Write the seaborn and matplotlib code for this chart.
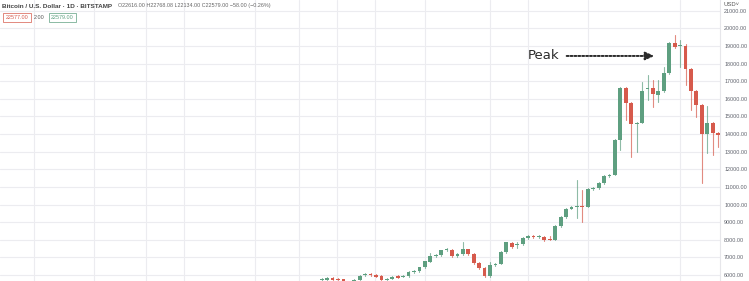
import numpy as np
import pandas as pd
import matplotlib
matplotlib.use("Agg")
import matplotlib.pyplot as plt
import seaborn as sns

# ---------------- data ----------------
opens = [5700, 5720, 5850, 5800, 5760, 5640, 5680, 5740, 5990, 6010,
         5990, 5940, 5740, 5790, 5930, 5900, 5930, 6170, 6200, 6440,
         6760, 7080, 7150, 7400, 7440, 7050, 7180, 7460, 7200, 6700,
         6400, 5920, 6560, 6620, 7300, 7820, 7720, 7760, 8100, 8210,
         8150, 8180, 8070, 7990, 8780, 9290, 9750, 9880, 9920, 9870,
         10880, 10920, 11220, 11620, 11680, 13660, 16610, 15760, 14570, 14630,
         16580, 16620, 16230, 16440, 17460, 19170, 18980, 19000, 17690, 16440,
         15650, 14000, 14630, 14060]
highs = [5830, 5880, 5900, 5850, 5800, 5670, 5770, 5990, 6120, 6090,
         6030, 5980, 5850, 5950, 5990, 6000, 6200, 6260, 6480, 6820,
         7250, 7200, 7430, 7560, 7500, 7220, 7870, 7500, 7230, 6720,
         6450, 6760, 6700, 7340, 7900, 7900, 7850, 8130, 8260, 8260,
         8250, 8240, 8200, 8830, 9330, 9790, 9920, 11390, 10820, 10950,
         11000, 11260, 11660, 11740, 13700, 16650, 16650, 15800, 14700, 16950,
         17350, 17070, 17070, 17820, 19200, 19620, 19340, 19100, 17750, 16500,
         15700, 15600, 14700, 14100]
lows = [5660, 5690, 5700, 5690, 5650, 5560, 5650, 5700, 5930, 5950,
        5860, 5700, 5720, 5760, 5820, 5860, 5900, 6140, 6180, 6400,
        6720, 7000, 7100, 7370, 7000, 7020, 7150, 7150, 6650, 6350,
        5880, 5880, 6500, 6600, 7270, 7550, 7560, 7730, 8070, 8100,
        8110, 7950, 7960, 7970, 8750, 9260, 9720, 9230, 9000, 9850,
        10820, 10870, 11190, 11580, 11650, 13100, 14800, 12700, 12980, 14600,
        15930, 15530, 15820, 16400, 17400, 18900, 17800, 16780, 15360, 14950,
        11220, 12900, 12800, 13260]
closes = [5780, 5850, 5740, 5720, 5680, 5600, 5740, 5950, 6030, 5990,
          5900, 5730, 5800, 5910, 5850, 5930, 6170, 6200, 6450, 6780,
          7080, 7150, 7400, 7460, 7050, 7180, 7460, 7200, 6700, 6400,
          5920, 6560, 6620, 7300, 7870, 7600, 7760, 8100, 8210, 8150,
          8170, 8000, 7990, 8780, 9290, 9750, 9860, 9920, 9870, 10880,
          10920, 11220, 11620, 11680, 13660, 16610, 15760, 14570, 14630, 16440,
          16620, 16270, 16440, 17460, 19170, 18940, 19050, 17690, 16440, 15650,
          14000, 14630, 14060, 13950]

price_ticks = [6000, 7000, 8000, 9000, 10000, 11000, 12000, 13000, 14000,
               15000, 16000, 17000, 18000, 19000, 20000, 21000]
title_text = "Bitcoin / U.S. Dollar · 1D · BITSTAMP"
ohlc_text = "O22616.00 H22768.08 L22134.00 C22579.00 −58.00 (−0.26%)"
bid_text, spread_text, ask_text = "22577.00", "2.00", "22579.00"
annotation_text = "Peak"
currency_text = "USD\u02c5"

# ---------------- style ----------------
sns.set_theme(style="white")
plt.rcParams["font.family"] = ["Liberation Sans", "DejaVu Sans"]

GREEN = "#5e9f80"
RED = "#d65a4c"
GRID = "#ececf0"

W, H = 749, 281
fig = plt.figure(figsize=(W / 100, H / 100), dpi=100)
fig.patch.set_facecolor("white")
ax = fig.add_axes([0, 0, 720 / W, 1])

n = len(opens)
df = pd.DataFrame({"idx": np.arange(n), "open": opens, "high": highs,
                   "low": lows, "close": closes})
df["dir"] = np.where(df["close"] >= df["open"], "up", "down")

# wicks via seaborn lineplot (one unit per candle)
wick = pd.concat([
    df[["idx", "dir"]].assign(price=df["high"]),
    df[["idx", "dir"]].assign(price=df["low"]),
])
wick["candle"] = wick["idx"]
sns.lineplot(data=wick, x="idx", y="price", hue="dir", units="candle",
             estimator=None, palette={"up": GREEN, "down": RED},
             legend=False, linewidth=0.8, sort=False, ax=ax, alpha=0.7)

# bodies
bottom = np.minimum(df["open"], df["close"])
height = np.maximum(np.abs(df["close"] - df["open"]), 60)
colors = [GREEN if d == "up" else RED for d in df["dir"]]
ax.bar(df["idx"], height, bottom=bottom, width=0.7, color=colors,
       edgecolor="none", zorder=3)

# axes limits (matching the reference framing)
ax.set_xlim(-59.24, 73.35)
ax.set_ylim(5659, 21606)

# grid
for p in price_ticks:
    ax.axhline(p, color=GRID, lw=0.8, zorder=0)
for gx in [-53, -42, -32.4, -25.4, -12.3, -4.2, 2.8, 9.8, 19, 31, 38, 49, 66]:
    ax.axvline(gx, color=GRID, lw=0.8, zorder=0)

ax.set_xlabel("")
ax.set_ylabel("")
ax.set_xticks([])
ax.yaxis.tick_right()
ax.set_yticks(price_ticks)
ax.set_yticklabels([f"{p:.2f}" for p in price_ticks], fontsize=3.9,
                   color="#5f626c")
ax.tick_params(axis="y", length=0, pad=3)
for s in ["top", "left", "bottom"]:
    ax.spines[s].set_visible(False)
ax.spines["right"].set_color("#e6e6ea")
ax.spines["right"].set_linewidth(0.8)

# Peak annotation
ax.annotate("", xy=(61.8, 18430), xytext=(44.6, 18430),
            arrowprops=dict(arrowstyle="-|>,head_length=0.45,head_width=0.2",
                            linestyle=(0, (1, 1)), lw=1.4, color="#2b2b2b"),
            zorder=5)
ax.text(38.0, 18480, annotation_text, fontsize=9.5, color="#2b2b2b",
        ha="left", va="center", family=["DejaVu Sans"], zorder=5)

# header texts
def fx(x):
    return x / W


def fy(y):
    return 1 - y / H


fig.text(fx(2), fy(6), title_text, fontsize=4.6, color="#444444",
         ha="left", va="center", fontweight="bold")
fig.text(fx(118), fy(6), ohlc_text, fontsize=3.9, color="#666666",
         ha="left", va="center")
fig.text(fx(17), fy(17.5), bid_text, fontsize=3.9, color=RED,
         ha="center", va="center",
         bbox=dict(boxstyle="square,pad=0.45", fc="white", ec=RED, lw=0.5))
fig.text(fx(39.5), fy(17.5), spread_text, fontsize=3.9, color="#555555",
         ha="center", va="center")
fig.text(fx(62.5), fy(17.5), ask_text, fontsize=3.9, color=GREEN,
         ha="center", va="center",
         bbox=dict(boxstyle="square,pad=0.45", fc="white", ec=GREEN, lw=0.5))
fig.text(fx(723), fy(5), currency_text, fontsize=4.2, color="#555555",
         ha="left", va="center",
         bbox=dict(boxstyle="square,pad=0.3", fc="white", ec="none"))

fig.savefig("out.png", dpi=100, facecolor="white")
